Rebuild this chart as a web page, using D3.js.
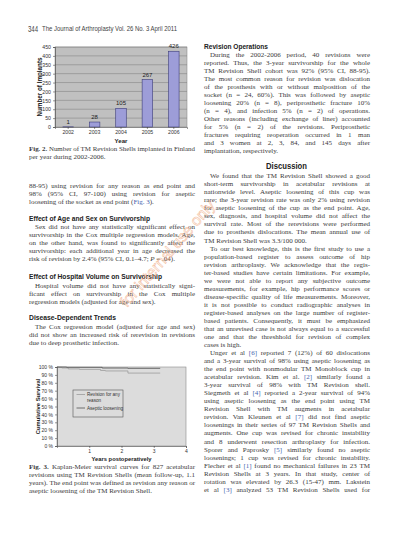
<!DOCTYPE html>
<html>
<head>
<meta charset="utf-8">
<script src="https://cdn.jsdelivr.net/npm/d3@7"></script>
<style>
    html, body { margin: 0; padding: 0; background: #fff; }
    svg { display: block; }
</style>
</head>
<body>
<div id="page"></div>
<script>
// Fig. 2 data
const years = ["2002", "2003", "2004", "2005", "2006"];
const implants = [1, 28, 105, 267, 426];
const implantTicks = [0, 50, 100, 150, 200, 250, 300, 350, 400, 450];

// Fig. 3 data (Kaplan-Meier steps)
const anyReasonYears = [0, 0.05, 0.15, 0.35, 0.7, 1.35, 1.5, 2.2, 3.2];
const anyReasonSurvival = [100, 99.5, 98.8, 97.6, 97.0, 95.6, 95.0, 92.3, 92.3];
const asepticYears = [0, 0.3, 1.4, 2.2, 3.2];
const asepticSurvival = [100, 99.6, 98.7, 98.3, 98.3];
const survivalTicks = [0, 10, 20, 30, 40, 50, 60, 70, 80, 90, 100];
const followUpTicks = [1, 2, 3, 4];
const legendLabels = [["Revision for any", "reason"], ["Aseptic loosening"]];

const SERIF = "'Liberation Serif', 'Times New Roman', serif";
const SANS = "'Liberation Sans', Arial, sans-serif";
const INK = "#3a3a3a";

const svg = d3.select("#page").append("svg")
    .attr("width", 400)
    .attr("height", 533);
svg.append("rect").attr("width", 400).attr("height", 533).style("fill", "#fff");

// one line of text; «..» = blue link, {..} = bold, _.._ = italic
function addLine(g, str, x, y, width, opts = {}) {
    const t = g.append("text")
        .attr("x", x)
        .attr("y", y)
        .style("font-family", opts.family || SERIF)
        .style("font-size", (opts.size || 7) + "px")
        .style("fill", opts.color || INK);
    if (opts.bold) t.style("font-weight", "bold");
    if (opts.anchor) t.attr("text-anchor", opts.anchor);
    str.split(/(\[\d\]|«[^»]*»|\{[^}]*\}|_[^_]*_)/).forEach(p => {
        if (!p) return;
        if (/^\[\d\]$/.test(p)) t.append("tspan").style("fill", "#4a5fae").text(p);
        else if (p[0] === "«") t.append("tspan").style("fill", "#4a5fae").text(p.slice(1, -1));
        else if (p[0] === "{") t.append("tspan").style("font-weight", "bold").text(p.slice(1, -1));
        else if (p[0] === "_" && p.length > 1) t.append("tspan").style("font-style", "italic").text(p.slice(1, -1));
        else t.append("tspan").text(p);
    });
    if (width) {
        const natural = t.node().getComputedTextLength();
        const clean = str.replace(/[«»{}]/g, "").replace(/_(\w)_/g, "$1");
        const spaces = (clean.match(/ /g) || []).length;
        if (natural > width) {
            t.attr("textLength", width).attr("lengthAdjust", "spacingAndGlyphs");
        } else if (spaces) {
            t.style("word-spacing", ((width - natural) / spaces) + "px");
        }
    }
    return t;
}

function addParagraph(g, lines, x, yCenter, width, opts = {}) {
    const step = opts.step || 8.05;
    const indent = opts.indent ? 6 : 0;
    lines.forEach((line, i) => {
        const dx = i === 0 ? indent : 0;
        const last = i === lines.length - 1 && !opts.runOn;
        addLine(g, line, x + dx, yCenter + i * step + 2.2, last ? null : width - dx, opts);
    });
}

function addHeading(g, str, x, yCenter, width, size = 6.6) {
    addLine(g, str, x, yCenter + 2.4, null, { family: SANS, size: size, bold: true, color: "#222" })
        .attr("textLength", width).attr("lengthAdjust", "spacingAndGlyphs");
}

function drawHeader(g) {
    addLine(g, "344", 28, 31.5, null, { family: SANS, size: 9, color: "#444" })
        .attr("textLength", 10).attr("lengthAdjust", "spacingAndGlyphs");
    addLine(g, "The Journal of Arthroplasty Vol. 26 No. 3 April 2011", 42, 31, null, { family: SANS, size: 6.4, color: "#444" })
        .attr("textLength", 135).attr("lengthAdjust", "spacingAndGlyphs");
}

function drawBarChart(g) {
    const x = d3.scaleBand().domain(years).range([55, 187]).paddingInner(0.6).paddingOuter(0.3);
    const y = d3.scaleLinear().domain([0, 450]).range([127, 47]);
    const [x0, x1] = x.range();
    const [y0, y1] = y.range();

    g.append("rect")
        .attr("x", x0).attr("y", y1)
        .attr("width", x1 - x0).attr("height", y0 - y1)
        .style("fill", "#c0c0c0")
        .style("stroke", "#808080")
        .style("stroke-width", 0.5);

    g.selectAll(".grid")
        .data(implantTicks.slice(1))
        .enter().append("line")
        .attr("class", "grid")
        .attr("x1", x0).attr("x2", x1)
        .attr("y1", d => y(d)).attr("y2", d => y(d))
        .style("stroke", "#7a7a7a")
        .style("stroke-width", 0.5);

    g.selectAll(".bar")
        .data(implants)
        .enter().append("rect")
        .attr("class", "bar")
        .attr("x", (d, i) => x(years[i]))
        .attr("y", d => y(d))
        .attr("width", x.bandwidth())
        .attr("height", d => y(0) - y(d))
        .style("fill", "#9d9dd8")
        .style("stroke", "#3d3d7a")
        .style("stroke-width", 0.6);

    g.selectAll(".bar-label")
        .data(implants)
        .enter().append("text")
        .attr("class", "bar-label")
        .attr("x", (d, i) => x(years[i]) + x.bandwidth() / 2)
        .attr("y", d => y(d) - 3)
        .attr("text-anchor", "middle")
        .style("font-family", SANS)
        .style("font-size", "6px")
        .style("fill", "#222")
        .text(d => d);

    const yAxis = g.append("g")
        .attr("transform", `translate(${x0},0)`)
        .call(d3.axisLeft(y).tickValues(implantTicks).tickSize(2).tickPadding(2));
    const xAxis = g.append("g")
        .attr("transform", `translate(0,${y0})`)
        .call(d3.axisBottom(x).tickSize(2).tickPadding(1.5));
    [yAxis, xAxis].forEach(a => {
        a.selectAll("path, line").style("stroke", "#333").style("stroke-width", 0.5);
        a.selectAll("text").style("font-family", SANS).style("font-size", "5.2px").style("fill", "#333");
    });

    g.append("text")
        .attr("x", (x0 + x1) / 2).attr("y", 142.6)
        .attr("text-anchor", "middle")
        .style("font-family", SANS).style("font-size", "6.1px").style("font-weight", "bold").style("fill", "#222")
        .text("Year");
    g.append("text")
        .attr("transform", `translate(42.2,${(y0 + y1) / 2}) rotate(-90)`)
        .attr("text-anchor", "middle")
        .style("font-family", SANS).style("font-size", "6.3px").style("font-weight", "bold").style("fill", "#222")
        .text("Number of Implants");
}

function drawSurvivalChart(g) {
    const x = d3.scaleLinear().domain([0, 4]).range([57, 186]);
    const y = d3.scaleLinear().domain([0, 100]).range([446, 367]);
    const [x0, x1] = x.range();
    const [y0, y1] = y.range();

    g.append("rect")
        .attr("x", x0).attr("y", y1)
        .attr("width", x1 - x0).attr("height", y0 - y1)
        .style("fill", "#dcdcdc")
        .style("stroke", "#8a8a8a")
        .style("stroke-width", 0.6);

    const line = d3.line()
        .x(d => x(d[0]))
        .y(d => y(d[1]))
        .curve(d3.curveStepAfter);

    const anyReason = anyReasonYears.map((t, i) => [t, anyReasonSurvival[i]]);
    const aseptic = asepticYears.map((t, i) => [t, asepticSurvival[i]]);

    g.append("path").datum(anyReason)
        .attr("d", line)
        .style("fill", "none").style("stroke", "#9c9c9c").style("stroke-width", 0.8);
    g.append("path").datum(aseptic)
        .attr("d", line)
        .style("fill", "none").style("stroke", "#505050").style("stroke-width", 0.8);

    const yAxis = g.append("g")
        .attr("transform", `translate(${x0},0)`)
        .call(d3.axisLeft(y).tickValues(survivalTicks).tickSize(2).tickPadding(2).tickFormat(d => d + " %"));
    const xAxis = g.append("g")
        .attr("transform", `translate(0,${y0})`)
        .call(d3.axisBottom(x).tickValues(followUpTicks).tickSize(2).tickPadding(1.5).tickFormat(d3.format("d")));
    [yAxis, xAxis].forEach(a => {
        a.selectAll("path, line").style("stroke", "#333").style("stroke-width", 0.5);
        a.selectAll("text").style("font-family", SANS).style("font-size", "5px").style("fill", "#333");
    });

    g.append("text")
        .attr("x", (x0 + x1) / 2).attr("y", 460.5)
        .attr("text-anchor", "middle")
        .style("font-family", SANS).style("font-size", "5.8px").style("font-weight", "bold").style("fill", "#222")
        .text("Years postoperatively");
    g.append("text")
        .attr("transform", `translate(40,${(y0 + y1) / 2}) rotate(-90)`)
        .attr("text-anchor", "middle")
        .style("font-family", SANS).style("font-size", "5.8px").style("font-weight", "bold").style("fill", "#222")
        .text("Cumulative Survival");

    // legend
    const legend = g.append("g").attr("class", "legend").attr("transform", "translate(73,390)");
    legend.append("rect")
        .attr("width", 50).attr("height", 27)
        .style("fill", "#dcdcdc")
        .style("stroke", "#555")
        .style("stroke-width", 0.6);
    const colors = ["#9c9c9c", "#505050"];
    const rows = [4.5, 18];
    legendLabels.forEach((lab, i) => {
        legend.append("line")
            .attr("x1", 3.5).attr("x2", 12)
            .attr("y1", rows[i]).attr("y2", rows[i])
            .style("stroke", colors[i]).style("stroke-width", 0.8);
        lab.forEach((txt, j) => {
            legend.append("text")
                .attr("x", 14).attr("y", rows[i] + 1.8 + j * 5.5)
                .style("font-family", SANS).style("font-size", "4.6px").style("fill", "#333")
                .text(txt);
        });
    });
}

function drawText(g) {
    // Fig. 2 caption
    addParagraph(g, [
        "{Fig. 2.} Number of TM Revision Shells implanted in Finland",
        "per year during 2002-2006."
    ], 29, 149, 166, { step: 7.9 });

    // left column
    addParagraph(g, [
        "88-95) using revision for any reason as end point and",
        "98% (95% CI, 97-100) using revision for aseptic",
        "loosening of the socket as end point («Fig. 3»)."
    ], 29, 186, 166, { step: 8.1 });
    addHeading(g, "Effect of Age and Sex on Survivorship", 29, 219, 121);
    addParagraph(g, [
        "Sex did not have any statistically significant effect on",
        "survivorship in the Cox multiple regression models. Age,",
        "on the other hand, was found to significantly affect the",
        "survivorship: each additional year in age decreased the",
        "risk of revision by 2.4% (95% CI, 0.1–4.7; _P_ = .04)."
    ], 29, 227, 166, { indent: true, step: 8.05 });
    addHeading(g, "Effect of Hospital Volume on Survivorship", 29, 277, 133);
    addParagraph(g, [
        "Hospital volume did not have any statistically signi-",
        "ficant effect on survivorship in the Cox multiple",
        "regression models (adjusted for age and sex)."
    ], 29, 286, 166, { indent: true, step: 8.05 });
    addHeading(g, "Disease-Dependent Trends", 29, 318, 87);
    addParagraph(g, [
        "The Cox regression model (adjusted for age and sex)",
        "did not show an increased risk of rerevision in revisions",
        "due to deep prosthetic infection."
    ], 29, 327, 166, { indent: true, step: 8.05 });

    // Fig. 3 caption
    addParagraph(g, [
        "{Fig. 3.} Kaplan-Meier survival curves for 827 acetabular",
        "revisions using TM Revision Shells (mean follow-up, 1.1",
        "years). The end point was defined as revision any reason or",
        "aseptic loosening of the TM Revision Shell."
    ], 29, 467, 166, { step: 7.8 });

    // right column
    addHeading(g, "Revision Operations", 204, 47, 64);
    addParagraph(g, [
        "During the 2002-2006 period, 40 revisions were",
        "reported. Thus, the 3-year survivorship for the whole",
        "TM Revision Shell cohort was 92% (95% CI, 88-95).",
        "The most common reason for revision was dislocation",
        "of the prosthesis with or without malposition of the",
        "socket (n = 24, 60%). This was followed by aseptic",
        "loosening 20% (n = 8), periprosthetic fracture 10%",
        "(n = 4), and infection 5% (n = 2) of operations.",
        "Other reasons (including exchange of liner) accounted",
        "for 5% (n = 2) of the revisions. Periprosthetic",
        "fractures requiring reoperation occurred in 1 man",
        "and 3 women at 2, 3, 84, and 145 days after",
        "implantation, respectively."
    ], 204, 55, 166, { indent: true, step: 8.0 });
    addHeading(g, "Discussion", 266, 167, 41, 8.6);

    const step = 8.04;
    addParagraph(g, [
        "We found that the TM Revision Shell showed a good",
        "short-term survivorship in acetabular revisions at",
        "nationwide level. Aseptic loosening of this cup was",
        "rare; the 3-year revision rate was only 2% using revision",
        "for aseptic loosening of the cup as the end point. Age,",
        "sex, diagnosis, and hospital volume did not affect the",
        "survival rate. Most of the rerevisions were performed",
        "due to prosthesis dislocations. The mean annual use of",
        "TM Revision Shell was 3.3/100 000."
    ], 204, 176, 166, { indent: true, step });
    addParagraph(g, [
        "To our best knowledge, this is the first study to use a",
        "population-based register to assess outcome of hip",
        "revision arthroplasty. We acknowledge that the regis-",
        "ter-based studies have certain limitations. For example,",
        "we were not able to report any subjective outcome",
        "measurements, for example, hip performance scores or",
        "disease-specific quality of life measurements. Moreover,",
        "it is not possible to conduct radiographic analyses in",
        "register-based analyses on the large number of register-",
        "based patients. Consequently, it must be emphasized",
        "that an unrevised case is not always equal to a successful",
        "one and that the threshhold for revision of complex",
        "cases is high."
    ], 204, 176 + 9 * step, 166, { indent: true, step });
    addParagraph(g, [
        "Unger et al [6] reported 7 (12%) of 60 dislocations",
        "and a 3-year survival of 98% using aseptic loosening as",
        "the end point with nonmodular TM Monoblock cup in",
        "acetabular revision. Kim et al. [2] similarly found a",
        "3-year survival of 98% with TM Revision shell.",
        "Siegmeth et al [4] reported a 2-year survival of 94%",
        "using aseptic loosening as the end point using TM",
        "Revision Shell with TM augments in acetabular",
        "revision. Van Kleunen et al [7] did not find aseptic",
        "loosenings in their series of 97 TM Revision Shells and",
        "augments. One cup was revised for chronic instability",
        "and 8 underwent resection arthroplasty for infection.",
        "Sporer and Paprosky [5] similarly found no aseptic",
        "loosenings; 1 cup was revised for chronic instability.",
        "Flecher et al [1] found no mechanical failures in 23 TM",
        "Revision Shells at 3 years. In that study, center of",
        "rotation was elevated by 26.3 (15-47) mm. Lakstein",
        "et al [3] analyzed 53 TM Revision Shells used for"
    ], 204, 176 + 22 * step, 166, { indent: true, step, runOn: true });
}

function drawWatermark(g) {
    g.append("text")
        .attr("transform", "translate(127,308) rotate(-49)")
        .style("font-family", SANS)
        .style("font-size", "15.5px")
        .style("fill", "rgba(250,215,190,0.25)")
        .style("stroke", "#f0a57a")
        .style("stroke-width", 0.5)
        .style("opacity", 0.75)
        .text("for internal use only");
}

drawHeader(svg.append("g").attr("class", "header"));
drawBarChart(svg.append("g").attr("class", "fig2"));
drawSurvivalChart(svg.append("g").attr("class", "fig3"));
drawText(svg.append("g").attr("class", "body-text"));
drawWatermark(svg.append("g").attr("class", "watermark"));
</script>
</body>
</html>
